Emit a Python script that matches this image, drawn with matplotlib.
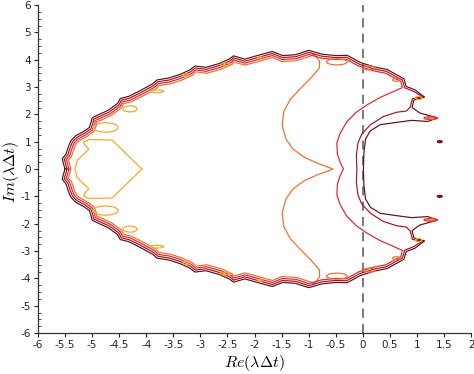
import numpy as np
import matplotlib
matplotlib.use("Agg")
import matplotlib.pyplot as plt
from matplotlib.patches import Ellipse

# ---------------- data ----------------
# upper half of the common outer (scalloped) stability boundary, left -> right
outer_x = [-5.50, -5.53, -5.55, -5.48, -5.44, -5.40, -5.37, -5.30, -5.15, -5.05,
           -5.02, -5.00, -4.90, -4.70, -4.53, -4.48, -4.32, -4.10, -3.88, -3.80,
           -3.58, -3.38, -3.20, -3.10, -2.90, -2.65, -2.46, -2.39, -2.18, -1.95,
           -1.67, -1.48, -1.25, -1.00, -0.75, -0.50, -0.29, -0.05, 0.20, 0.45,
           0.65, 0.76, 0.80, 0.96, 1.14, 0.94, 0.91, 1.05, 1.38, 1.20, 0.90]
outer_y = [0.00, 0.20, 0.38, 0.55, 0.80, 1.00, 1.08, 1.22, 1.38, 1.52,
           1.70, 1.87, 1.97, 2.15, 2.40, 2.58, 2.66, 2.88, 3.12, 3.26,
           3.33, 3.46, 3.62, 3.77, 3.72, 3.86, 4.03, 4.14, 4.02, 4.15,
           4.30, 4.15, 4.18, 4.34, 4.20, 4.15, 4.16, 3.90, 3.74, 3.64,
           3.42, 3.30, 3.02, 2.90, 2.63, 2.52, 2.25, 2.05, 1.87, 1.74, 1.78]

# inner (right-hand) branches of each level curve, upper half
maroon_x = [0.60, 0.32, 0.14, 0.05, 0.02, 0.01]
maroon_y = [1.70, 1.62, 1.40, 1.10, 0.60, 0.00]
darkred_x = [0.80, 0.63, 0.38, 0.14, -0.02, -0.09, -0.12, -0.11]
darkred_y = [2.12, 2.08, 1.92, 1.62, 1.28, 0.95, 0.50, 0.00]
red_x = [0.62, 0.32, 0.08, -0.12, -0.30, -0.42, -0.48, -0.47, -0.42, -0.36]
red_y = [2.88, 2.62, 2.35, 2.08, 1.72, 1.30, 0.95, 0.55, 0.25, 0.00]
orangered_x = [-0.90, -0.80, -0.80, -0.95, -1.15, -1.34, -1.46, -1.49, -1.42,
               -1.30, -1.10, -0.85, -0.55]
orangered_y = [4.20, 3.95, 3.70, 3.35, 2.95, 2.55, 2.10, 1.60, 1.10,
               0.75, 0.45, 0.22, 0.00]

# number of outer-boundary points each level follows before its inner branch
outer_used = {"maroon": 51, "darkred": 47, "red": 43, "orangered": 34}

# orange "house" shaped inner curve (upper half)
house_x = [-4.08, -4.63, -5.05, -5.16, -5.12, -5.06, -5.18, -5.28, -5.30, -5.32]
house_y = [0.00, 1.06, 1.08, 0.98, 0.85, 0.72, 0.50, 0.30, 0.10, 0.00]

# small closed loops (upper half; mirrored below): centre, full width, height, level
loop_cx = [-4.75, -4.30, -3.80, -3.27, -2.54, -1.90, -0.48, 0.12, 0.62, 1.03, 1.25, 1.26]
loop_cy = [1.52, 2.20, 2.84, 3.44, 3.82, 4.08, 3.92, 3.70, 3.26, 2.60, 1.86, 1.86]
loop_w = [0.46, 0.26, 0.24, 0.10, 0.18, 0.08, 0.38, 0.22, 0.14, 0.12, 0.24, 0.14]
loop_h = [0.34, 0.22, 0.10, 0.10, 0.09, 0.06, 0.22, 0.14, 0.10, 0.12, 0.10, 0.06]
loop_lvl = ["orange", "orange", "orange", "orange", "orange", "orange",
            "orangered", "orangered", "orangered", "orange", "red", "orangered"]

# isolated tiny islands
blob_x = [1.42]
blob_y = [1.00]

level_colors = {"maroon": "#5a1014", "darkred": "#a8121e", "red": "#e3212c",
                "orangered": "#f26a2c", "orange": "#f5a524"}
level_inset_px = {"maroon": 0.0, "darkred": 2.0, "red": 4.0, "orangered": 6.0}

x_ticks = np.arange(-6, 2.01, 0.5)
y_ticks = np.arange(-6, 6.01, 1)

# ---------------- figure ----------------
plt.rcParams["mathtext.fontset"] = "cm"
fig = plt.figure(figsize=(4.74, 3.74), dpi=100)
ax = fig.add_axes([0.080, 0.1096, 0.914, 0.877])
ax.set_xlim(-6, 2)
ax.set_ylim(-6, 6)

ax.axvline(0, color="#555555", lw=1.1, ls=(0, (6, 4)), zorder=1)

trans = ax.transData
inv = trans.inverted()


def inset(xs, ys, d):
    pts = trans.transform(np.column_stack([xs, ys]))
    if d == 0:
        return np.asarray(xs, float), np.asarray(ys, float)
    g = np.gradient(pts, axis=0)
    n = np.column_stack([g[:, 1], -g[:, 0]])
    n /= np.linalg.norm(n, axis=1)[:, None]
    pts = pts + d * n
    back = inv.transform(pts)
    back[0, 1] = 0.0
    return back[:, 0], back[:, 1]


branches = {"maroon": (maroon_x, maroon_y), "darkred": (darkred_x, darkred_y),
            "red": (red_x, red_y), "orangered": (orangered_x, orangered_y)}

LW = 0.85
for lvl in ["orangered", "red", "darkred", "maroon"]:
    k = outer_used[lvl]
    ox, oy = inset(outer_x[:k], outer_y[:k], level_inset_px[lvl])
    bx, by = branches[lvl]
    ux = np.concatenate([ox, bx])
    uy = np.concatenate([oy, by])
    xs = np.concatenate([ux, ux[::-1]])
    ys = np.concatenate([uy, -uy[::-1]])
    ax.plot(xs, ys, color=level_colors[lvl], lw=LW, zorder=3)

hx = np.asarray(house_x)
hy = np.asarray(house_y)
ax.plot(np.concatenate([hx, hx[::-1]]), np.concatenate([hy, -hy[::-1]]),
        color=level_colors["orange"], lw=LW, zorder=3)

for cx, cy, w, h, lvl in zip(loop_cx, loop_cy, loop_w, loop_h, loop_lvl):
    for s in (1, -1):
        ax.add_patch(Ellipse((cx, s * cy), w, h, fill=False,
                             edgecolor=level_colors[lvl], lw=LW, zorder=4))

for bx, by in zip(blob_x, blob_y):
    for s in (1, -1):
        ax.add_patch(Ellipse((bx, s * by), 0.09, 0.08, facecolor=level_colors["darkred"],
                             edgecolor=level_colors["maroon"], lw=0.8, zorder=4))

# axes styling
for side in ("top", "right"):
    ax.spines[side].set_visible(False)
for side in ("left", "bottom"):
    ax.spines[side].set_color("#333333")
    ax.spines[side].set_linewidth(0.9)

ax.set_xticks(x_ticks)
ax.set_xticklabels([f"{v:g}" for v in x_ticks])
ax.set_yticks(y_ticks)
ax.set_yticklabels([f"{v:g}" for v in y_ticks])
ax.set_yticks(np.arange(-6, 6.01, 0.25), minor=True)
ax.tick_params(axis="both", which="major", direction="out", length=3, width=0.8,
               labelsize=7.5, colors="#222222", pad=2)
ax.tick_params(axis="y", which="minor", direction="in", length=2, width=0.6, colors="#333333")

ax.set_xlabel(r"$Re(\lambda\Delta t)$", fontsize=11.5, labelpad=2)
ax.set_ylabel(r"$Im(\lambda\Delta t)$", fontsize=11.5)
ax.yaxis.set_label_coords(-0.040, 0.49)

fig.savefig("out.png", dpi=100)
